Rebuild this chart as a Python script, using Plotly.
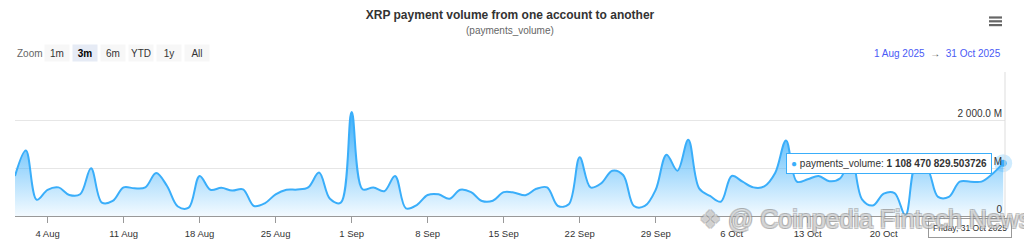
import plotly.graph_objects as go
import pandas as pd

# ---------------- data ----------------
dates = pd.date_range("2025-08-01", "2025-10-31", freq="D")
volume_m = [
    # Aug 1-31
    840, 1375, 340, 550, 600, 440, 455, 1000, 280, 315,
    600, 580, 600, 900, 630, 200, 175, 840, 550, 590,
    535, 560, 210, 265, 455, 550, 555, 600, 910, 360, 280,
    # Sep 1-30
    2180, 560, 600, 520, 840, 160, 230, 440, 455, 360,
    550, 500, 315, 320, 500, 490, 435, 570, 600, 210,
    245, 1230, 600, 690, 950, 860, 210, 210, 550, 1285,
    # Oct 1-31
    950, 1600, 580, 420, 300, 840, 720, 600, 620, 900,
    1585, 720, 770, 840, 730, 790, 1250, 350, 220, 470,
    480, 10, 1100, 1000, 400, 400, 720, 720, 720, 880, 1108.470829503726,
]
volume = [v * 1e6 for v in volume_m]

series_name = "payments_volume"
title_text = "XRP payment volume from one account to another"
subtitle_text = "(payments_volume)"
y_tick_vals = [0, 1e9, 2e9, 3e9]
y_tick_text = ["0", "1 000.0 M", "2 000.0 M", ""]
zoom_buttons = ["1m", "3m", "6m", "YTD", "1y", "All"]
selected_button = "3m"
range_from = "1 Aug 2025"
range_to = "31 Oct 2025"
hover_date_label = "Friday, 31 Oct 2025"
watermark_text = "@ Coinpedia Fintech News"

# ---------------- style ----------------
FONT = "Liberation Sans, Arial, Helvetica, sans-serif"
LINE = "#3aaefa"
W, H = 1024, 246
L, R, T, B = 15, 1005, 72, 216  # plot area in pixels


def px(x):
    return (x - L) / (R - L)


def py(y):
    return (B - y) / (B - T)


fig = go.Figure()
fig.add_trace(go.Scatter(
    x=dates, y=volume, mode="lines", name=series_name,
    line=dict(color=LINE, width=2, shape="spline", smoothing=1),
    fill="tozeroy",
    fillgradient=dict(type="vertical", start=0, stop=2.2e9,
                      colorscale=[[0, "rgba(58,174,250,0.06)"], [1, "rgba(58,174,250,1)"]]),
    hoverinfo="skip", showlegend=False,
))
# hovered point + halo
fig.add_trace(go.Scatter(
    x=[dates[-1]], y=[volume[-1]], mode="markers",
    marker=dict(size=18, color="rgba(58,174,250,0.25)"),
    cliponaxis=False, hoverinfo="skip", showlegend=False,
))
fig.add_trace(go.Scatter(
    x=[dates[-1]], y=[volume[-1]], mode="markers",
    marker=dict(size=7, color=LINE),
    cliponaxis=False, hoverinfo="skip", showlegend=False,
))

annotations = []
# subtitle
annotations.append(dict(x=px(510), y=py(31), xref="paper", yref="paper", text=subtitle_text,
                        showarrow=False, xanchor="center", yanchor="middle",
                        font=dict(size=10, color="#666", family=FONT)))
# zoom label
annotations.append(dict(x=px(15), y=py(53), xref="paper", yref="paper", text="Zoom",
                        showarrow=False, xanchor="left", yanchor="middle",
                        font=dict(size=10, color="#666", family=FONT)))
# buttons
for i, b in enumerate(zoom_buttons):
    cx = 56.5 + i * 28.1
    sel = b == selected_button
    annotations.append(dict(
        x=px(cx), y=py(53.3), xref="paper", yref="paper",
        text=f"<b>{b}</b>" if sel else b, showarrow=False,
        xanchor="center", yanchor="middle", width=24, height=16, borderpad=0,
        bgcolor="#e6ebf5" if sel else "#f7f7f7",
        font=dict(size=10, color="#000" if sel else "#333", family=FONT)))
# date range
annotations.append(dict(
    x=px(1003), y=py(53), xref="paper", yref="paper",
    text=f"{range_from}  <span style='color:#555'>→</span>  {range_to}",
    showarrow=False, xanchor="right", yanchor="middle",
    font=dict(size=10, color="#4a5af5", family=FONT)))
# crosshair date label
annotations.append(dict(
    x=px(1012), y=py(228), xref="paper", yref="paper", text=hover_date_label,
    showarrow=False, xanchor="right", yanchor="middle", bgcolor="white",
    bordercolor="#999", borderwidth=1, borderpad=4,
    font=dict(size=8.5, color="#333", family=FONT)))
# watermark
annotations.append(dict(
    x=px(697), y=py(219), xref="paper", yref="paper", text="❖ " + watermark_text,
    showarrow=False, xanchor="left", yanchor="middle", opacity=0.9,
    font=dict(size=25, color="rgba(255,255,255,0.55)", family=FONT,
              shadow="1px 1px 0 #8c8c8c, -1px -1px 0 #8c8c8c, 1px -1px 0 #8c8c8c, -1px 1px 0 #8c8c8c")))
# tooltip
val_txt = f"{volume[-1]:,.6f}".replace(",", " ")
annotations.append(dict(
    x=px(992), y=volume[-1], xref="paper", yref="y",
    text=f"<span style='color:{LINE}'>●</span> {series_name}: <b>{val_txt}</b>",
    showarrow=False, xanchor="right", yanchor="middle", bgcolor="white",
    bordercolor=LINE, borderwidth=1, borderpad=4,
    font=dict(size=10, color="#333", family=FONT)))

shapes = [
    # crosshair / right border
    dict(type="line", xref="paper", yref="paper", x0=1, x1=1, y0=0, y1=1,
         line=dict(color="#dddddd", width=1)),
]
# hamburger menu
for yy in (17.5, 21.3, 25.1):
    shapes.append(dict(type="line", xref="paper", yref="paper",
                       x0=px(989), x1=px(1002), y0=py(yy), y1=py(yy),
                       line=dict(color="#666", width=2.2)))

fig.update_layout(
    width=W, height=H, autosize=False,
    margin=dict(l=L, r=W - R, t=T, b=H - B, pad=0),
    paper_bgcolor="white", plot_bgcolor="white",
    font=dict(family=FONT, color="#333"),
    title=dict(text=f"<b>{title_text}</b>", x=510 / W, xref="container", xanchor="center",
               y=1 - 15 / H, yref="container", yanchor="middle",
               font=dict(size=12, color="#333", family=FONT)),
    xaxis=dict(
        range=["2025-08-01", "2025-10-31 04:00"],
        tick0="2025-08-04", dtick=7 * 86400000, tickformat="%-d %b",
        ticks="outside", ticklen=6, tickcolor="#999", tickwidth=1,
        ticklabelstandoff=3, automargin=False,
        showline=True, linecolor="#999", linewidth=1,
        showgrid=False, zeroline=False,
        tickfont=dict(size=9.5, color="#333", family=FONT),
    ),
    yaxis=dict(
        range=[0, 3.02e9], side="right", automargin=False,
        tickmode="array", tickvals=y_tick_vals, ticktext=y_tick_text,
        ticklabelposition="inside top", ticks="",
        showgrid=True, gridcolor="#e6e6e6", gridwidth=1,
        zeroline=False, showline=False,
        tickfont=dict(size=10, color="#333", family=FONT),
    ),
    annotations=annotations, shapes=shapes,
    showlegend=False, hovermode=False,
)

fig.write_html("out.html")
